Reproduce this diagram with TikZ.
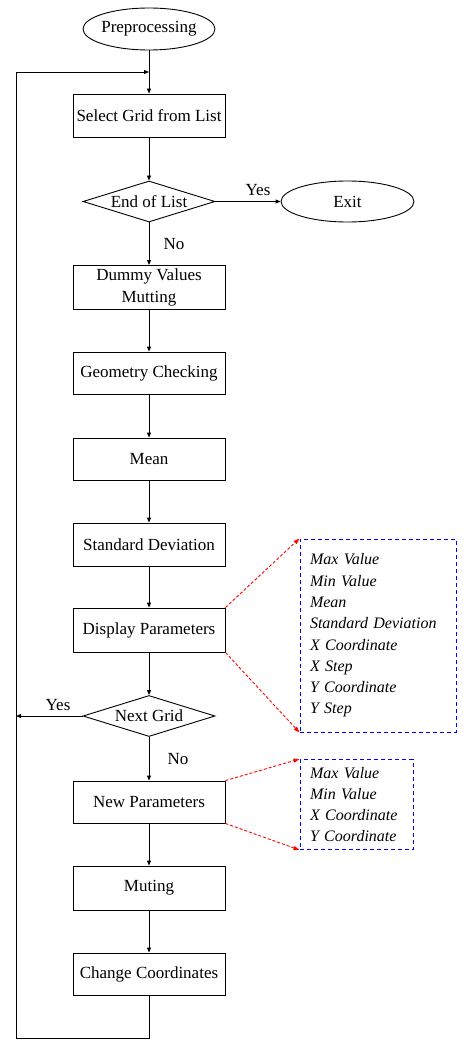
\documentclass[tikz,border=0pt]{standalone}
\usepackage{fontspec}
\setmainfont{Liberation Serif}
\usetikzlibrary{shapes.geometric,arrows.meta}
\definecolor{boxblue}{RGB}{0,0,255}
\begin{document}
\begin{tikzpicture}[x=1pt,y=-1pt,
  every node/.style={font=\fontsize{17}{20}\selectfont},
  proc/.style={draw, line width=0.9pt, minimum width=152pt, minimum height=43pt, inner sep=0pt, align=center},
  term/.style={draw, ellipse, line width=0.9pt, minimum width=132pt, minimum height=42pt, inner sep=0pt},
  dec/.style={draw, diamond, aspect=3.2, line width=0.9pt, minimum width=132pt, minimum height=41pt, inner sep=0pt},
  flow/.style={line width=0.9pt, -{Triangle[length=5pt,width=4pt]}},
  link/.style={red, dash pattern=on 3pt off 2pt, line width=0.9pt, -{Triangle[length=6pt,width=4pt]}},
  info/.style={draw=boxblue, dash pattern=on 4pt off 3pt, line width=1pt, inner xsep=10pt, inner ysep=0pt, align=left, font=\fontsize{16}{21.3}\selectfont\itshape},
  lbl/.style={inner sep=0pt}
]
\useasboundingbox (0,0) rectangle (474,1059);

\node[term] (pre) at (149,29) {\makebox[0pt]{Preprocessing}};
\node[proc] (sel) at (149,115.5) {Select Grid from List};
\node[dec] (endl) at (149,201.5) {\makebox[0pt]{End of List}};
\node[term, minimum width=133pt, minimum height=41pt] (exit) at (347.5,201.5) {\makebox[0pt]{Exit}};
\node[proc, minimum height=44pt] (dum) at (149,287.5) {Dummy Values\\[2pt]Mutting};
\node[proc, minimum height=42pt] (geo) at (149,373) {Geometry Checking};
\node[proc, minimum height=42pt] (mean) at (149,459) {Mean};
\node[proc] (std) at (149,544.5) {Standard Deviation};
\node[proc, minimum height=44pt] (disp) at (149,630) {Display Parameters};
\node[dec] (nxt) at (149,716) {\makebox[0pt]{Next Grid}};
\node[proc, minimum height=42pt] (newp) at (149,802) {New Parameters};
\node[proc, minimum height=44pt] (mut) at (149,888) {Muting};
\node[proc, minimum height=42pt] (chg) at (149,974) {Change Coordinates};

\node[info, text width=136pt, minimum height=193pt] (inf1) at (378,635.5)
  {Max Value\\Min Value\\Mean\\Standard Deviation\\X Coordinate\\X Step\\Y Coordinate\\Y Step};
\node[info, text width=93pt, minimum height=90pt] (inf2) at (356.5,804.5)
  {Max Value\\Min Value\\X Coordinate\\Y Coordinate};

\coordinate (j) at (149,72);
\coordinate (lt) at (16,72);
\coordinate (lb) at (16,1038);
\coordinate (ny) at (16,716);

\draw[line width=0.9pt] (pre.south) -- (j);
\draw[flow] (j) -- (sel.north);
\draw[flow] (sel.south) -- (endl.north);
\draw[flow] (endl.east) -- (exit.west);
\draw[flow] (endl.south) -- (dum.north);
\draw[flow] (dum.south) -- (geo.north);
\draw[flow] (geo.south) -- (mean.north);
\draw[flow] (mean.south) -- (std.north);
\draw[flow] (std.south) -- (disp.north);
\draw[flow] (disp.south) -- (nxt.north);
\draw[flow] (nxt.south) -- (newp.north);
\draw[flow] (nxt.west) -- (ny);
\draw[flow] (newp.south) -- (mut.north);
\draw[flow] (mut.south) -- (chg.north);
\draw[flow] (chg.south) |- (lb) -- (lt) -- (j);

\draw[link] (disp.north east) -- (inf1.north west);
\draw[link] (disp.south east) -- (inf1.south west);
\draw[link] (newp.north east) -- (inf2.north west);
\draw[link] (newp.south east) -- (inf2.south west);

\node[lbl] (yes1) at (258,190) {Yes};
\node[lbl] (no1) at (174,244) {No};
\node[lbl] (yes2) at (58,705) {Yes};
\node[lbl] (no2) at (178,759) {No};
\end{tikzpicture}
\end{document}
